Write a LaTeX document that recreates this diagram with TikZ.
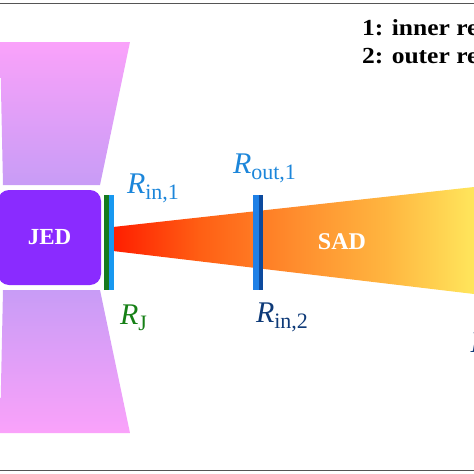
\documentclass[tikz,border=0pt]{standalone}
\usepackage{fontspec}
\setmainfont{Liberation Serif}
\definecolor{frameg}{RGB}{85,85,85}
\definecolor{trapA}{RGB}{250,162,250}
\definecolor{trapB}{RGB}{200,156,246}
\definecolor{jedc}{RGB}{138,43,255}
\definecolor{barg}{RGB}{22,122,30}
\definecolor{barb}{RGB}{24,152,240}
\definecolor{bar2l}{RGB}{30,128,230}
\definecolor{bar2d}{RGB}{12,74,158}
\definecolor{lblue}{RGB}{28,134,218}
\definecolor{lgreen}{RGB}{22,128,22}
\definecolor{dblue}{RGB}{14,58,120}
\definecolor{wr}{RGB}{255,30,0}
\definecolor{wo1}{RGB}{255,95,20}
\definecolor{wo2}{RGB}{255,140,45}
\definecolor{wo3}{RGB}{255,182,64}
\definecolor{wy}{RGB}{255,230,92}
\pgfdeclarehorizontalshading{wedgeshade}{100bp}{color(0bp)=(wr); color(25bp)=(wr); color(37bp)=(wo1); color(50bp)=(wo2); color(63bp)=(wo3); color(75bp)=(wy); color(100bp)=(wy)}
\tikzset{
  lbl/.style={anchor=base west, inner sep=0pt, outer sep=0pt},
  big/.style={font=\fontsize{30}{30}\selectfont},
  boldtxt/.style={font=\bfseries\fontsize{23}{23}\selectfont, inner sep=0pt},
  legtxt/.style={lbl, font=\bfseries\fontsize{23}{23}\selectfont},
}
\newcommand{\Rlab}[1]{\textit{R}\raisebox{-6.5pt}{\fontsize{22}{22}\selectfont #1}}
\newcommand{\legstretch}[1]{\scalebox{1.11}[1]{#1}}
\begin{document}
\begin{tikzpicture}[x=1pt,y=-1pt]
\useasboundingbox (0,0) rectangle (474,474);
\clip (0,0) rectangle (474,474);
% frame lines
\draw[frameg, line width=1.6pt] (-2,3.5) -- (476,3.5);
\draw[frameg, line width=1.6pt] (-2,470.5) -- (476,470.5);
% trapezoids
\shade[top color=trapA, bottom color=trapB] (0,42) -- (130,42) -- (100,185) -- (3,185) -- cycle;
\shade[top color=trapB, bottom color=trapA] (3,290) -- (100,290) -- (130,433) -- (0,433) -- cycle;
% wedge
\shade[shading=wedgeshade] (113,227) -- (474,187) -- (474,294) -- (113,251) -- cycle;
% JED box
\node[fill=jedc, rounded corners=11pt, minimum width=103pt, minimum height=95pt, inner sep=0pt] (jed) at (49.5,237.5) {};
\node[boldtxt, text=white] (jedt) at (jed.center) {JED};
% bars
\fill[barg] (104,195) rectangle (109,290);
\fill[barb] (109,195) rectangle (114,290);
\fill[bar2l] (253,195) rectangle (258.5,290);
\fill[bar2d] (258.5,195) rectangle (263,290);
% SAD
\node[boldtxt, text=white, font=\bfseries\fontsize{24}{24}\selectfont] (sad) at (342,242) {SAD};
% labels
\node[lbl, big, text=lblue] (rin1) at (127,193) {\Rlab{in,1}};
\node[lbl, big, text=lblue] (rout1) at (233,173) {\Rlab{out,1}};
\node[lbl, big, text=lgreen] (rj) at (120,324) {\Rlab{J}};
\node[lbl, big, text=dblue] (rin2) at (256,322) {\Rlab{in,2}};
\node[lbl, big, text=dblue] (rout2) at (470.5,352) {\Rlab{out,2}};
% legend
\node[legtxt] (leg1) at (362,35) {\legstretch{1: inner region}};
\node[legtxt] (leg2) at (362,63) {\legstretch{2: outer region}};
\end{tikzpicture}
\end{document}
